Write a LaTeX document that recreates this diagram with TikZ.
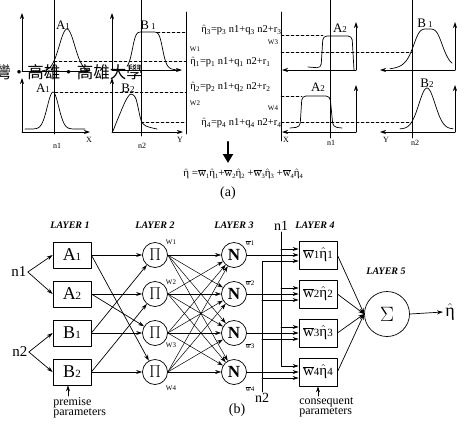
\documentclass[tikz,border=0pt]{standalone}
\usepackage{fontspec}
\setmainfont{Liberation Serif}
\newfontfamily\cjkfont{Noto Sans CJK TC}
\usetikzlibrary{arrows.meta}
\newcommand\eh{\ensuremath{\hat{\mbox{η}}}}
\newcommand\wb{\ensuremath{\overline{\mbox{w}}}}
\newcommand\sub[1]{\textsubscript{#1}}
\newcommand\tsub[1]{\raisebox{-1.8pt}{\fontsize{6.5}{6.5}\selectfont #1}}
\newcommand\lo[1]{{\fontsize{9}{9}\selectfont #1}}
\newcommand\sm[1]{{\fontsize{11}{11}\selectfont #1}}
\tikzset{
  mfbox/.style={draw, minimum width=38pt, minimum height=26pt, inner sep=0pt, font=\fontsize{18}{18}\selectfont},
  rulebox/.style={draw, minimum width=38pt, minimum height=28pt, inner sep=0pt, font=\fontsize{15}{15}\selectfont},
  neuron/.style={draw, circle, minimum size=25pt, inner sep=0pt, font=\fontsize{17}{17}\selectfont},
  layer/.style={font=\fontsize{10}{10}\selectfont\bfseries\itshape},
  wtag/.style={font=\fontsize{7}{7}\selectfont, inner sep=0pt},
  mfname/.style={font=\fontsize{13}{13}\selectfont, inner sep=0pt},
  axlab/.style={font=\fontsize{8}{8}\selectfont, inner sep=0pt},
  eqn/.style={anchor=west, font=\fontsize{10.5}{10.5}\selectfont, inner sep=0pt},
  guide/.style={dash pattern=on 3pt off 2pt, line width=0.5pt},
}
\begin{document}
\begin{tikzpicture}[x=1pt, y=-1pt, line width=0.7pt, line join=round, line cap=round, >={Stealth[length=6pt,width=4pt]}]
\useasboundingbox (0,0) rectangle (474,426);
% (a) membership functions, left
\draw[->] (22,71)--(22,13); \draw[->] (22,71)--(90,71);
\draw[->] (112,70)--(112,13); \draw[->] (112,70)--(182,70);
\draw[->] (22,132)--(22,78); \draw[->] (22,132)--(90,132);
\draw[->] (112,132)--(112,78); \draw[->] (112,132)--(183,132);
\draw (54,0)--(54,134) (141,0)--(141,136) (186,12)--(186,134);
\draw[samples=60,domain=42:90,smooth,variable=\x] plot (\x,{71-42*exp(-(\x-67)*(\x-67)/118)});
\draw[samples=80,domain=127:178,smooth,variable=\x] plot (\x,{70-38/(1+((\x-147.5)*(\x-147.5)/240.25)^4)});
\draw[samples=60,domain=25:85,smooth,variable=\x] plot (\x,{129-37*exp(-(\x-53)*(\x-53)/64)});
\draw plot[smooth] coordinates {(113,131) (119,116) (126,100) (131,94) (136,99) (141,120) (146,126) (157,129)};
\draw[guide] (54,61)--(186,61) (157,32)--(186,32) (55,92)--(186,92) (141,122)--(186,122);
% (a) membership functions, right
\draw[->] (356,70)--(356,22); \draw[->] (356,70)--(282,70);
\draw[->] (455,70)--(455,22); \draw[->] (455,70)--(380,70);
\draw[->] (356,132)--(356,85); \draw[->] (356,132)--(282,132);
\draw[->] (455,132)--(455,85); \draw[->] (455,132)--(380,132);
\draw (330,0)--(330,138) (412,0)--(412,138) (281,12)--(281,141);
\draw[rounded corners=4pt] (308,67)--(321,68)--(323,36)--(352,36)--(354,70);
\draw[rounded corners=4pt] (290,128)--(300,127)--(302,96)--(330,96)--(333,127)--(342,128);
\draw[samples=80,domain=390:452,smooth,variable=\x] plot (\x,{70-41/(1+((\x-428)*(\x-428)/256)^2)});
\draw[samples=60,domain=400:453,smooth,variable=\x] plot (\x,{129-41*exp(-(\x-427)*(\x-427)/132)});
\draw[guide] (281,35)--(323,35) (281,52)--(412,52) (281,96)--(302,96) (281,122)--(412,122);
\node[mfname] (mA1t) at (63,25) {A\lo{1}};
\node[mfname] (mB1t) at (148,25) {B\lo{ 1}};
\node[mfname] (mA1b) at (43,88) {A\lo{1}};
\node[mfname] (mB2b) at (128,88) {B\lo{2}};
\node[mfname] (mA2t) at (340,28) {A\lo{2}};
\node[mfname] (mB1r) at (425,23) {B\lo{ 1}};
\node[mfname] (mA2b) at (318,87) {A\lo{2}};
\node[mfname] (mB2r) at (427,83) {B\lo{2}};
\node[axlab] (xn1l) at (57,146) {n1};
\node[axlab] (xn2l) at (142,146) {n2};
\node[axlab] (xXl) at (89,140) {X};
\node[axlab] (xYl) at (180,140) {Y};
\node[axlab] (xn1r) at (331,143) {n1};
\node[axlab] (xn2r) at (415,143) {n2};
\node[axlab] (xXr) at (286,140) {X};
\node[axlab] (xYr) at (386,140) {Y};
\node[anchor=west, inner sep=0pt, font=\cjkfont\fontsize{16.5}{16.5}\selectfont] (wm) at (-6,72) {灣・高雄・高雄大學};
% (a) rule outputs
\node[eqn] (eq3) at (201,30) {\eh\sub{3}=p\sub{3} n1+q\sub{3} n2+r\sub{3}};
\node[eqn] (eq1) at (190,62) {\eh\sub{1}=p\sub{1} n1+q\sub{1} n2+r\sub{1}};
\node[eqn] (eq2) at (190,87) {\eh\sub{2}=p\sub{2} n1+q\sub{2} n2+r\sub{2}};
\node[eqn] (eq4) at (201,123) {\eh\sub{4}=p\sub{4} n1+q\sub{4} n2+r\sub{4}};
\node[wtag] (tw1) at (195,49) {W1};
\node[wtag] (tw2) at (195,103) {W2};
\node[wtag] (tw3) at (273,42) {W3};
\node[wtag] (tw4) at (273,108) {W4};
\coordinate (down) at (228,142);
\node[anchor=west, inner sep=0pt, font=\fontsize{11}{11}\selectfont] (fin) at (183,174)
  {\eh{} =\wb\tsub{1}\eh\tsub{1}+\wb\tsub{2}\eh\tsub{2} +\wb\tsub{3}\eh\tsub{3} +\wb\tsub{4}\eh\tsub{4}};
\draw[line width=2.5pt, -{Triangle[length=9pt,width=10pt]}] (down) -- (down |- 0,163);
\node[font=\fontsize{14}{14}\selectfont] (capa) at (228,193) {(a)};
% (b) network
\foreach \i/\t in {1/LAYER 1,2/LAYER 2,3/LAYER 3,4/LAYER 4}
  \node[layer] (lay\i) at ({\i==1 ? 70 : (\i==2 ? 155 : (\i==3 ? 234 : 315))},225) {\t};
\node[layer] (lay5) at (386,271) {LAYER 5};
\node[font=\fontsize{15}{15}\selectfont, inner sep=1pt] (n1) at (19,272) {n1};
\node[font=\fontsize{15}{15}\selectfont, inner sep=1pt] (n2) at (20,352) {n2};
\node[mfbox] (A1) at (72,255) {A\sm{1}};
\node[mfbox] (A2) at (72,294) {A\sm{2}};
\node[mfbox] (B1) at (72,333) {B\sm{1}};
\node[mfbox] (B2) at (72,372) {B\sm{2}};
\foreach \i/\y in {1/255,2/294,3/333,4/372} {
  \node[neuron] (P\i) at (155,\y) {$\Pi$};
  \node[neuron] (N\i) at (234,\y) {\textbf{N}};
  \node[rulebox] (C\i) at (318,\y) {\wb\sm{\i}\eh\sm{\i}};
  \coordinate (t\i) at ([yshift=6pt]C\i.west);
  \coordinate (b\i) at ([yshift=-6pt]C\i.west);
}
\foreach \i/\y in {1/242,2/282,3/345,4/388} {
  \node[wtag] (wp\i) at (171,\y) {W\i};
  \node[wtag] (wn\i) at (250,\y+1) {\wb\i};
}
\draw[->] (n1.east) -- (A1.west);
\draw[->] (n1.east) -- (A2.west);
\draw[->] (n2.east) -- (B1.west);
\draw[->] (n2.east) -- (B2.west);
\foreach \a/\p in {A1/P1,A1/P4,A2/P2,A2/P3,B1/P3,B1/P1,B2/P4,B2/P2}
  \draw[->] (\a.east) -- (\p);
\foreach \i in {1,...,4}
  \foreach \j in {1,...,4}
    \draw[->, line width=0.5pt] (P\i.east) -- (N\j);
\foreach \i in {1,...,4}
  \draw[->] (N\i.east) -- (C\i.west);
\node[font=\fontsize{14}{14}\selectfont, inner sep=1pt] (n1b) at (281,226) {n1};
\node[font=\fontsize{14}{14}\selectfont, inner sep=1pt] (n2b) at (262,398) {n2};
\draw[->] (n1b.south) |- (t4);
\draw[->] (n2b.north) |- (b1);
\foreach \i in {1,2,3} \draw[->] (n1b.south |- t\i) -- (t\i);
\foreach \i in {2,3,4} \draw[->] (n2b.north |- b\i) -- (b\i);
\node[draw, circle, minimum size=45pt, inner sep=0pt, font=\fontsize{20}{20}\selectfont] (S) at (387,314) {$\Sigma$};
\foreach \i in {1,...,4} \draw[->] (C\i.east) -- (S.west);
\node[font=\fontsize{18}{18}\selectfont, inner sep=0pt] (out) at (450,312) {\eh};
\draw[->] (S.east) -- ([xshift=-2pt]out.west);
\node[align=left, anchor=north west, inner sep=0pt, font=\fontsize{12}{10}\selectfont] (prem) at (53,397) {premise\\parameters};
\node[align=left, anchor=north west, inner sep=0pt, font=\fontsize{12}{10}\selectfont] (cons) at (299,397) {consequent\\parameters};
\coordinate (pa) at (68,396);
\coordinate (ca) at (318,396);
\draw[->] (pa) -- (pa |- B2.south);
\draw[->] (ca) -- (ca |- C4.south);
\node[font=\fontsize{14}{14}\selectfont] (capb) at (237,410) {(b)};
\end{tikzpicture}
\end{document}
